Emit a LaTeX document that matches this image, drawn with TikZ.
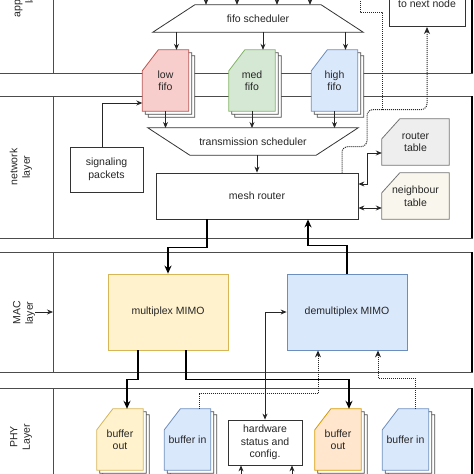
\documentclass[tikz,border=0pt]{standalone}
\usepackage{fontspec}
\setmainfont{Liberation Sans}
\usepackage{xcolor}
\usetikzlibrary{arrows.meta}

\definecolor{pinkfill}{HTML}{F8CECC}
\definecolor{pinkline}{HTML}{B85450}
\definecolor{greenfill}{HTML}{D5E8D4}
\definecolor{greenline}{HTML}{82B366}
\definecolor{bluefill}{HTML}{DAE8FC}
\definecolor{blueline}{HTML}{6C8EBF}
\definecolor{yellowfill}{HTML}{FFF2CC}
\definecolor{yellowline}{HTML}{D6B656}
\definecolor{orangefill}{HTML}{FFE6CC}
\definecolor{orangeline}{HTML}{D79B00}
\definecolor{grayfill}{HTML}{EEEEEE}
\definecolor{creamfill}{HTML}{F9F7ED}

\tikzset{
  lbl/.style={align=center, inner sep=0pt, text=black!85,
    font=\fontsize{10.5}{12.5}\selectfont},
  box/.style={lbl, draw=black!80, fill=white, line width=0.8pt},
  layer/.style={draw=black!70, line width=0.8pt},
  edge/.style={draw=black, line width=1.8pt},
  trap/.style={draw=black!80, line width=0.8pt},
  cardbox/.style={draw=none, inner sep=0pt, minimum width=46pt, minimum height=61pt},
  tablebox/.style={draw=none, inner sep=0pt, minimum width=67pt, minimum height=46pt},
  backcard/.style={draw=black!70, fill=white, line width=0.8pt},
  pinkcard/.style={fill=pinkfill, draw=pinkline, line width=0.8pt},
  greencard/.style={fill=greenfill, draw=greenline, line width=0.8pt},
  bluecard/.style={fill=bluefill, draw=blueline, line width=0.8pt},
  yellowcard/.style={fill=yellowfill, draw=yellowline, line width=0.8pt},
  orangecard/.style={fill=orangefill, draw=orangeline, line width=0.8pt},
  graycard/.style={fill=grayfill, draw=black!55, line width=0.8pt},
  creamcard/.style={fill=creamfill, draw=black!55, line width=0.8pt},
  arr/.style={draw=black!85, line width=0.8pt, -{Stealth[length=6pt, width=5pt]}},
  dblarr/.style={draw=black!85, line width=0.8pt, {Stealth[length=6pt, width=5pt]}-{Stealth[length=6pt, width=5pt]}},
  thickarr/.style={draw=black, line width=1.5pt, -{Stealth[length=8pt, width=7pt]}},
  dotline/.style={draw=black!85, line width=1pt, densely dotted},
  dotarr/.style={dotline, -{Stealth[length=7pt, width=6pt]}}
}

% card with two copies behind it
\newcommand{\cardstack}[4]{%
  \node[cardbox] at #3 (#1) {};
  \foreach \d in {6,3}
    \draw[backcard] ([shift={(16+\d,\d)}]#1.north west) -- ([shift={(\d,\d)}]#1.north east)
      -- ([shift={(\d,\d)}]#1.south east) -- ([shift={(\d,\d)}]#1.south west)
      -- ([shift={(\d,21+\d)}]#1.north west) -- cycle;
  \draw[#2] ([shift={(16,0)}]#1.north west) -- (#1.north east) -- (#1.south east)
    -- (#1.south west) -- ([shift={(0,21)}]#1.north west) -- cycle;
  \node[lbl] at (#1.center) (#1-text) {#4};
}

% single card
\newcommand{\tablecard}[4]{%
  \node[tablebox] at #3 (#1) {};
  \draw[#2] ([shift={(18,0)}]#1.north west) -- (#1.north east) -- (#1.south east)
    -- (#1.south west) -- ([shift={(0,20)}]#1.north west) -- cycle;
  \node[lbl] at (#1.center) (#1-text) {#4};
}

\begin{document}
\begin{tikzpicture}[x=1pt, y=-1pt]
\useasboundingbox (0,0) rectangle (474,474);
\clip (0,0) rectangle (474,474);

% layers
\foreach \top/\bot in {-60/73, 96/238, 252/372, 388/530} {
  \draw[layer] (-3,\top) rectangle (472,\bot);
  \draw[layer] (53,\top) -- (53,\bot);
  \draw[edge] (472,\top) -- (472,\bot);
}

\node[lbl, rotate=90] at (24,-8) (applbl) {application\\layer};
\node[lbl, rotate=90] at (21,167) (netlbl) {network\\layer};
\node[lbl, rotate=90] at (24,313) (maclbl) {MAC\\layer};
\node[lbl, rotate=90] at (21,437) (phylbl) {PHY\\Layer};
\coordinate (macdiv) at (53,312);
\draw[arr] (maclbl.south |- macdiv) -- (macdiv);

% application layer
\node[lbl, minimum width=210pt, minimum height=27pt] at (258,18.5) (fsched) {fifo scheduler};
\draw[trap] (fsched.south west) -- ([shift={(42,0)}]fsched.north west)
  -- ([shift={(-42,0)}]fsched.north east) -- (fsched.south east) -- cycle;
\foreach \x in {206,237,277,310}
  \draw[arr] (\x,-12) -- (fsched.north -| \x,0);

\node[box, minimum width=76pt, minimum height=57pt, anchor=south] at (427,27) (nextnode) {};
\node[lbl] at (427,4) (nextlbl) {to next node};

\cardstack{lowfifo}{pinkcard}{(165.5,80.5)}{low\\fifo}
\cardstack{medfifo}{greencard}{(252,80.5)}{med\\fifo}
\cardstack{highfifo}{bluecard}{(334.5,80.5)}{high\\fifo}

\foreach \f in {lowfifo,medfifo,highfifo} {
  \draw[arr] ([xshift=11pt]\f.north |- fsched.south) -- ([xshift=11pt]\f.north);
  \draw[arr] (\f.south) -- (\f.south |- 0,128);
}

% network layer
\node[lbl, minimum width=210pt, minimum height=27pt] at (253,141.5) (tsched) {transmission scheduler};
\draw[trap] (tsched.north west) -- (tsched.north east)
  -- ([shift={(-42,0)}]tsched.south east) -- ([shift={(42,0)}]tsched.south west) -- cycle;

\node[box, minimum width=73pt, minimum height=45pt] at (106.5,169.5) (sigpk) {signaling\\packets};
\draw[arr] ([xshift=-4pt]sigpk.north) |- ([yshift=-22.5pt]lowfifo.west);

\node[box, minimum width=202pt, minimum height=46pt] at (257,196) (mesh) {mesh router};
\draw[arr] (mesh.north |- tsched.south) -- (mesh.north);

\tablecard{rtable}{graycard}{(415.5,142)}{router\\table}
\tablecard{ntable}{creamcard}{(415.5,196)}{neighbour\\table}
\draw[dblarr] ([yshift=12pt]mesh.east) -- ++(9,0) |- ([yshift=-11pt]rtable.west);
\draw[dblarr] ([yshift=-12pt]mesh.east) -- ([yshift=-12pt]mesh.east -| ntable.west);

\coordinate (fromtop) at (360,-15);
\coordinate (merge) at (382,110);
\draw[dotline] (fromtop) -- ++(0,27) -| (merge);
\draw[dotarr, rounded corners=6pt] ([xshift=85pt]mesh.north) -- ++(0,-26) -- ++(25,0)
  -- ++(0,-37) -| (nextnode.south);

% MAC layer
\node[box, yellowcard, minimum width=120pt, minimum height=76pt] at (168,312) (mux) {multiplex MIMO};
\node[box, bluecard, minimum width=120pt, minimum height=76pt] at (347,312) (demux) {demultiplex MIMO};
\draw[thickarr] ([xshift=-50pt]mesh.south) -- ++(0,28) -| (mux.north);
\draw[thickarr] (demux.north) -- ++(0,-28) -| ([xshift=51pt]mesh.south);

% PHY layer
\cardstack{bufout1}{yellowcard}{(120,439.5)}{buffer\\out}
\cardstack{bufin1}{bluecard}{(187.5,439.5)}{buffer in}
\node[box, minimum width=74pt, minimum height=45pt] at (265,442.5) (hw) {hardware\\status and\\config.};
\cardstack{bufout2}{orangecard}{(338,439.5)}{buffer\\out}
\cardstack{bufin2}{bluecard}{(405.5,439.5)}{buffer in}

\draw[thickarr] ([xshift=-30pt]mux.south) -- ++(0,29) -| ([xshift=7pt]bufout1.north);
\draw[thickarr] ([xshift=18pt]mux.south) -- ++(0,29) -| ([xshift=11pt]bufout2.north);
\draw[dotarr] ([xshift=12pt]bufin1.north) -- ++(0,-15) -| ([xshift=-29pt]demux.south);
\draw[dotarr] ([xshift=10pt]bufin2.north) -- ++(0,-30) -| ([xshift=31pt]demux.south);
\draw[dblarr] (hw.north) |- (demux.west);

\coordinate (hwin1) at (241,490);
\coordinate (hwin2) at (292,490);
\draw[arr] (hwin1) -- (hwin1 |- hw.south);
\draw[arr] (hwin2) -- (hwin2 |- hw.south);

\end{tikzpicture}
\end{document}
